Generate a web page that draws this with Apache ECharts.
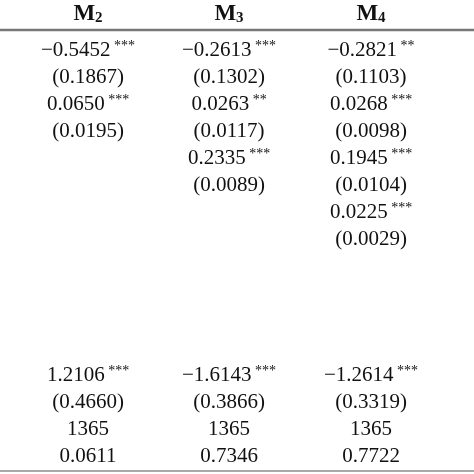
<!DOCTYPE html>
<html><head><meta charset="utf-8">
<script src="https://cdn.jsdelivr.net/npm/echarts@6/dist/echarts.min.js"></script>
<style>html,body{margin:0;padding:0;background:#fff}#c{width:474px;height:474px}</style>
</head><body><div id="c"></div>
<script>
const headers = [['M','2'],['M','3'],['M','4'],['M','5']];
const colM2 = ['−0.5452|***','(0.1867)','0.0650|***','(0.0195)','','','','','','','','','1.2106|***','(0.4660)','1365','0.0611'];
const colM3 = ['−0.2613|***','(0.1302)','0.0263|**','(0.0117)','0.2335|***','(0.0089)','','','','','','','−1.6143|***','(0.3866)','1365','0.7346'];
const colM4 = ['−0.2821|**','(0.1103)','0.0268|***','(0.0098)','0.1945|***','(0.0104)','0.0225|***','(0.0029)','','','','','−1.2614|***','(0.3319)','1365','0.7722'];
const colM5 = ['−0.2500|***','(0.1100)','0.0270|***','(0.0100)','0.1900|***','(0.0100)','−0.0020','(0.0030)','−0.0300|***','(0.0100)','','','−1.2000|***','(0.3300)','1365','0.7800'];
const columns = [colM2, colM3, colM4, colM5];

const colX = [88, 229, 371, 522];
const rowY0 = 50, rowStep = 27.1;
const font = '"Liberation Serif", "DejaVu Serif", serif';
const els = [];
headers.forEach((h, i) => {
  els.push({type:'text', x: colX[i], y: 14, style:{
    text: '{b|' + h[0] + '}{s|' + h[1] + '}', align:'center', verticalAlign:'middle',
    rich:{ b:{fontFamily:font, fontSize:23, fontWeight:'bold', fill:'#111'},
           s:{fontFamily:font, fontSize:15, fontWeight:'bold', fill:'#111', padding:[9,0,0,0]} }
  }});
});
els.push({type:'line', shape:{x1:0,y1:30,x2:474,y2:30}, style:{stroke:'#777', lineWidth:2.5}});
els.push({type:'line', shape:{x1:0,y1:471,x2:474,y2:471}, style:{stroke:'#555', lineWidth:1}});
columns.forEach((col, i) => {
  col.forEach((v, r) => {
    if (!v) return;
    const parts = v.split('|');
    const txt = '{n|' + parts[0] + '}' + (parts[1] ? '{st| ' + parts[1] + '}' : '');
    els.push({type:'text', x: colX[i], y: rowY0 + r * rowStep, style:{
      text: txt, align:'center', verticalAlign:'middle',
      rich:{ n:{fontFamily:font, fontSize:21, fill:'#111'},
             st:{fontFamily:font, fontSize:14, fill:'#111', padding:[0,0,8,0]} }
    }});
  });
});
const chart = echarts.init(document.getElementById('c'));
chart.setOption({ animation:false, graphic: els });
</script></body></html>
